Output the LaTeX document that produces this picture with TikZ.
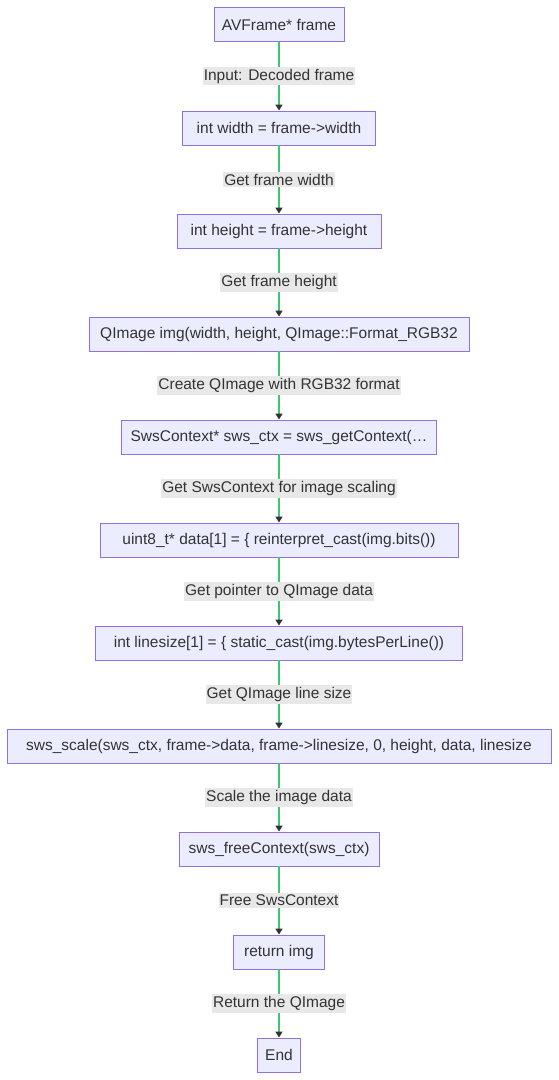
\documentclass[tikz,border=0pt]{standalone}
\usepackage{fontspec}
\setmainfont{Liberation Sans}
\usetikzlibrary{arrows.meta,positioning}
\definecolor{boxfill}{HTML}{ECECFF}
\definecolor{boxline}{HTML}{9370DB}
\definecolor{flow}{RGB}{60,200,110}
\definecolor{lblfill}{HTML}{E8E8E8}
\definecolor{ink}{HTML}{333333}
\begin{document}
\begin{tikzpicture}[x=1pt, y=-1pt,
    stepbox/.style={draw=boxline, fill=boxfill, line width=0.9pt, text=ink,
      minimum height=34pt, inner xsep=0pt, font=\fontsize{15.5}{18}\selectfont},
    edgelbl/.style={fill=lblfill, text=ink, inner xsep=1pt, inner ysep=2pt,
      font=\fontsize{15.5}{18}\selectfont},
    flowline/.style={draw=flow, line width=2pt,
      -{Triangle[length=6pt, width=7pt, color=ink]}}]
  \useasboundingbox (0,0) rectangle (559,1080);
  % boxes, top to bottom
  \node[stepbox, minimum width=130pt] (frame) at (279,24.5) {AVFrame* frame};
  \node[stepbox, minimum width=193pt] (width) at (279,128) {int width = frame->width};
  \node[stepbox, minimum width=204pt] (height) at (279,231) {int height = frame->height};
  \node[stepbox, minimum width=380pt] (img) at (279,334) {QImage img(width, height, QImage::Format\_RGB32};
  \node[stepbox, minimum width=315pt] (ctx) at (279,437) {SwsContext* sws\_ctx = sws\_getContext(…};
  \node[stepbox, minimum width=358pt] (data) at (279,540) {uint8\_t* data[1] = \{ reinterpret\_cast(img.bits())};
  \node[stepbox, minimum width=367pt] (lines) at (279,643) {int linesize[1] = \{ static\_cast(img.bytesPerLine())};
  \node[stepbox, minimum width=544pt] (scale) at (279,746) {sws\_scale(sws\_ctx, frame->data, frame->linesize, 0, height, data, linesize};
  \node[stepbox, minimum width=200pt] (free) at (279,849) {sws\_freeContext(sws\_ctx)};
  \node[stepbox, minimum width=91pt] (ret) at (279,952) {return img};
  \node[stepbox, minimum width=43pt] (end) at (279,1055) {End};
  % connectors with labels
  \foreach \a/\b/\t in {frame/width/Input: Decoded frame,
      width/height/Get frame width,
      height/img/Get frame height,
      img/ctx/Create QImage with RGB32 format,
      ctx/data/Get SwsContext for image scaling,
      data/lines/Get pointer to QImage data,
      lines/scale/Get QImage line size,
      scale/free/Scale the image data,
      free/ret/Free SwsContext,
      ret/end/Return the QImage}
    \draw[flowline] (\a) -- node[edgelbl] {\t} (\b);
\end{tikzpicture}
\end{document}
